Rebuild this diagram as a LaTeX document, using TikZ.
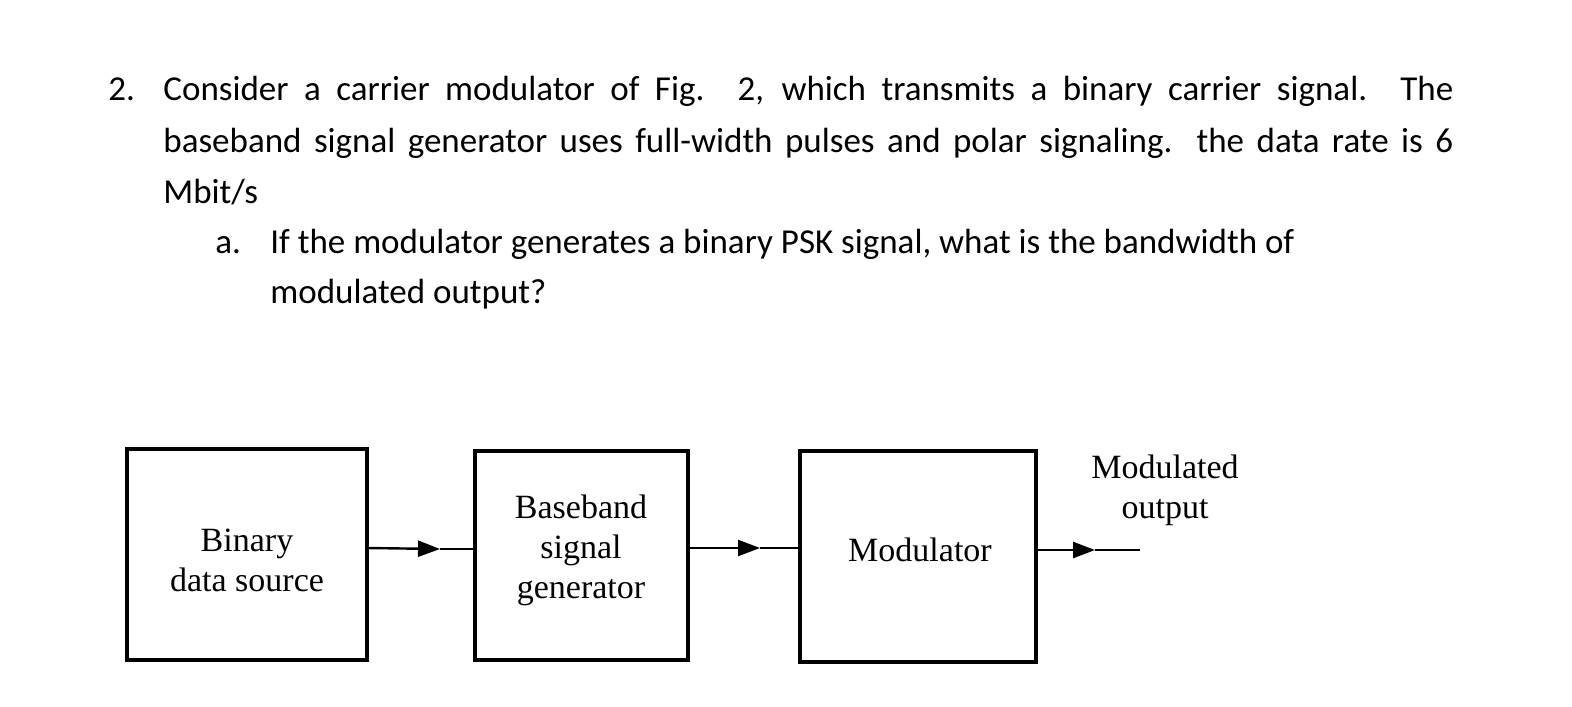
\documentclass[tikz,border=0pt]{standalone}
\usepackage{fontspec}
\setmainfont{Carlito}
\newfontfamily\diag{Liberation Serif}
\usetikzlibrary{arrows.meta}
\begin{document}
\begin{tikzpicture}[x=0.5pt,y=-0.5pt,
  blk/.style={draw,line width=2.2pt,inner sep=0pt},
  lbl/.style={font=\diag\fontsize{17}{24}\selectfont,align=center},
  txt/.style={anchor=base west,inner sep=0pt,font=\fontsize{17.5}{21}\selectfont},
  conn/.style={line width=1.2pt,-{Triangle[length=11pt,width=8pt]}}]
\useasboundingbox (0,0) rectangle (1572,706);
\node[txt] (n2) at (108,100) {2.};
\node[txt] (l1) at (163,100) {\makebox[645pt][s]{Consider a carrier modulator of Fig. 2, which transmits a binary carrier signal. The}};
\node[txt] (l2) at (163,152) {\makebox[645pt][s]{baseband signal generator uses full-width pulses and polar signaling. the data rate is 6}};
\node[txt] (l3) at (163,203) {Mbit/s};
\node[txt] (na) at (215,253) {a.};
\node[txt] (l4) at (270,253) {If the modulator generates a binary PSK signal, what is the bandwidth of};
\node[txt] (l5) at (270,303) {modulated output?};
\draw[blk] (127,449) rectangle (367,660);
\draw[blk] (475,451) rectangle (688,660);
\draw[blk] (800,451) rectangle (1036,662);
\node[lbl] (b1) at (247,560) {Binary\\[-4pt]data source};
\node[lbl] (b2) at (581,550) {Baseband\\[-4pt]signal\\[-4pt]generator};
\node[lbl] (b3) at (920,550) {Modulator};
\node[lbl] (out) at (1165,490) {Modulated\\[-4pt]output};
\coordinate (a1) at (367,548); \coordinate (m1) at (440,549); \coordinate (e1) at (475,549);
\coordinate (a2) at (688,548); \coordinate (m2) at (760,548); \coordinate (e2) at (800,548);
\coordinate (a3) at (1036,550); \coordinate (m3) at (1095,550); \coordinate (e3) at (1140,550);
\draw[conn] (a1) -- (m1); \draw[line width=1.2pt] (m1) -- (e1);
\draw[conn] (a2) -- (m2); \draw[line width=1.2pt] (m2) -- (e2);
\draw[conn] (a3) -- (m3); \draw[line width=1.2pt] (m3) -- (e3);
\end{tikzpicture}
\end{document}
